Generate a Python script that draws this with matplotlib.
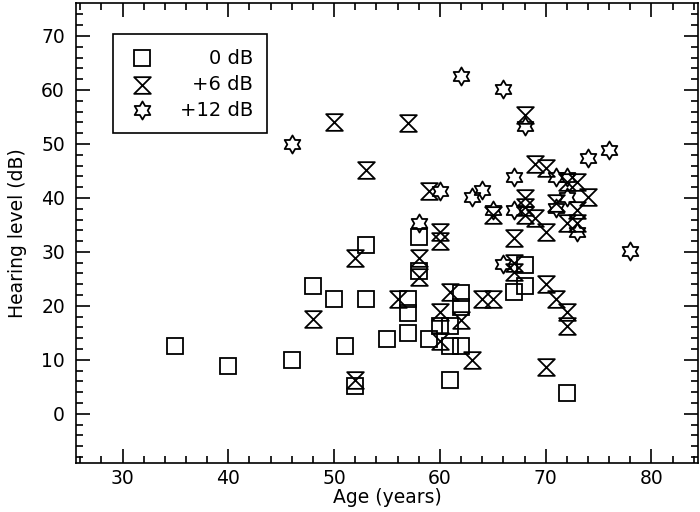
import numpy as np
import matplotlib
matplotlib.use("Agg")
import matplotlib.pyplot as plt
from matplotlib.path import Path
from matplotlib.patches import Rectangle

# ---- data ----
age_0db = [35, 40, 46, 48, 50, 51, 52, 53, 53, 55, 57, 57, 57, 58, 58, 59,
           60, 61, 61, 61, 62, 62, 62, 67, 68, 68, 72]
hl_0db = [12.5, 8.8, 10.0, 23.7, 21.2, 12.5, 5.1, 31.2, 21.2, 13.8, 21.3, 18.7,
          14.9, 32.7, 26.5, 13.8, 16.2, 16.2, 12.5, 6.2, 12.5, 22.4, 19.8,
          22.5, 23.7, 27.6, 3.8]

age_6db = [48, 50, 52, 52, 53, 56, 57, 58, 58, 59, 60, 60, 60, 60, 61, 62,
           63, 64, 65, 65, 67, 67, 67, 68, 68, 68, 68, 69, 69, 70, 70, 70,
           70, 71, 71, 72, 72, 72, 72, 73, 73, 73, 74]
hl_6db = [17.5, 54.0, 28.8, 6.2, 45.1, 21.2, 53.8, 28.8, 25.3, 41.2, 33.6,
          32.1, 18.8, 13.5, 22.5, 17.3, 9.9, 21.2, 21.2, 36.8, 32.5, 27.9,
          26.2, 55.3, 39.9, 38.3, 36.8, 46.2, 36.2, 45.5, 33.6, 24.0, 8.7,
          39.0, 21.2, 43.0, 35.3, 18.8, 16.2, 42.9, 37.7, 35.3, 40.1]

age_12db = [46, 58, 60, 62, 63, 64, 65, 66, 66, 67, 67, 68, 71, 71, 72, 72,
            73, 74, 76, 78]
hl_12db = [50.0, 35.4, 41.3, 62.5, 40.1, 41.4, 37.7, 60.1, 27.8, 43.8, 37.7,
           53.4, 43.8, 38.2, 43.8, 40.1, 33.6, 47.3, 48.8, 30.2]

labels = ["0 dB", "+6 dB", "+12 dB"]

# ---- custom markers ----
hourglass = Path([(-1, 1), (1, 1), (-1, -1), (1, -1), (-1, 1)],
                 [Path.MOVETO, Path.LINETO, Path.LINETO, Path.LINETO, Path.CLOSEPOLY])
ang = np.pi / 2 + np.arange(12) * np.pi / 6
rad = np.where(np.arange(12) % 2 == 0, 1.0, 1 / np.sqrt(3))
sv = np.column_stack([rad * np.cos(ang), rad * np.sin(ang)])
sv = np.vstack([sv, sv[:1]])
star6 = Path(sv, [Path.MOVETO] + [Path.LINETO] * 11 + [Path.CLOSEPOLY])

markers = ["s", hourglass, star6]
sizes = [12, 12, 13]

plt.rcParams['font.family'] = ['DejaVu Sans']
fig = plt.figure(figsize=(7.0, 5.12), dpi=100)
ax = fig.add_axes([76 / 700, 1 - 463 / 512, 622 / 700, 460 / 512])

style = dict(linestyle='none', mfc='none', mec='black', mew=1.3)
for x, y, m, s in zip([age_0db, age_6db, age_12db], [hl_0db, hl_6db, hl_12db], markers, sizes):
    ax.plot(x, y, marker=m, ms=s, **style)

ax.set_xlim(25.6, 84.4)
ax.set_ylim(-9.1, 76.1)
ax.set_xticks(np.arange(30, 81, 10))
ax.set_xticks(np.arange(26, 85, 2), minor=True)
ax.set_yticks(np.arange(0, 71, 10))
ax.set_yticks(np.arange(-8, 76, 2), minor=True)
ax.tick_params(which='both', direction='in', top=True, right=True, width=1.2,
               labelsize=13.5, color='black')
ax.tick_params(which='major', length=10)
ax.tick_params(which='minor', length=5)
ax.tick_params(axis='x', pad=4)
ax.tick_params(axis='y', pad=8)
for sp in ax.spines.values():
    sp.set_linewidth(1.2)

ax.set_xlabel("Age (years)", fontsize=13.5, labelpad=0)
ax.set_ylabel("Hearing level (dB)", fontsize=13.5, labelpad=10)

# legend drawn by hand in axes coordinates
ax.add_patch(Rectangle((0.0595, 0.717), 0.2475, 0.216, transform=ax.transAxes,
                       fill=False, ec='black', lw=1.2, zorder=5))
rows = [0.880, 0.822, 0.767]
for y, m, s, lab in zip(rows, markers, sizes, labels):
    ax.plot([0.106], [y], marker=m, ms=s, transform=ax.transAxes, clip_on=False, **style)
    ax.text(0.2846, y, lab, transform=ax.transAxes, ha='right', va='center', fontsize=14)

fig.savefig("out.png", dpi=100)
